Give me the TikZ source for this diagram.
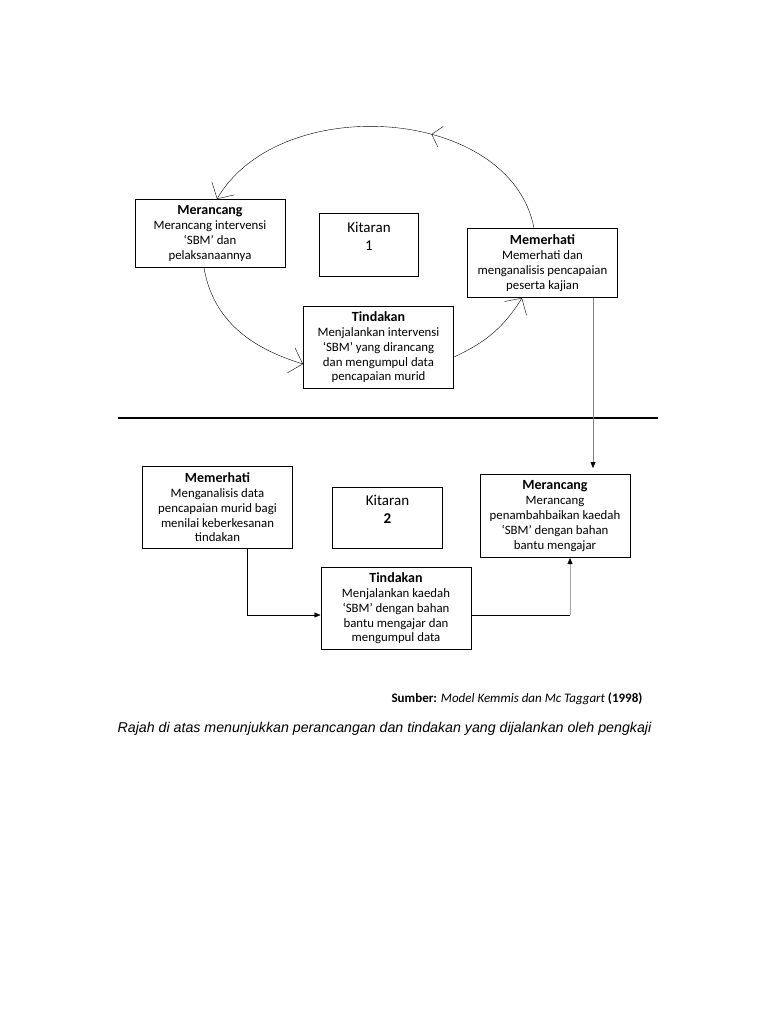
\documentclass[tikz,border=0pt]{standalone}
\usepackage{fontspec}
\setmainfont{Carlito}
\newfontfamily\arialfont{Liberation Sans}
\usetikzlibrary{calc,positioning,arrows.meta,decorations.markings}

\newcommand{\boxhead}[1]{{\fontsize{14}{14.6}\selectfont\bfseries #1}}

\begin{document}
\begin{tikzpicture}[x=1pt,y=-1pt,>={Triangle[length=6pt,width=5pt,color=black]},
	box/.style={draw,line width=1pt,align=center,minimum width=150pt,minimum height=82pt,inner sep=2pt,font=\fontsize{12.8}{14.8}\selectfont},
	kitbox/.style={draw,line width=1pt,align=center,inner sep=2pt,font=\fontsize{15}{18}\selectfont},
	cyc/.style={thin,-{Straight Barb[length=12pt,width=26pt]}}]
	\fill[white] (0,0) rectangle (768,1024);
	% kitaran 1
	\node[box,minimum height=68pt] (mer1) at (210,233.5) {\boxhead{Merancang}\\Merancang intervensi\\‘SBM’ dan\\pelaksanaannya};
	\node[kitbox,minimum width=99pt,minimum height=63pt] (kit1) at (369,245) {Kitaran\\1\\\mbox{}};
	\node[box,minimum height=69pt] (mem1) at (542.5,263) {\boxhead{Memerhati}\\Memerhati dan\\menganalisis pencapaian\\peserta kajian};
	\node[box] (tind1) at (378.5,347.5) {\boxhead{Tindakan}\\Menjalankan intervensi\\‘SBM’ yang dirancang\\dan mengumpul data\\pencapaian murid};
	%
	\draw[cyc,postaction={decorate,decoration={markings,mark=at position 0.38 with {\arrow{Straight Barb[length=9pt,width=21pt]}}}}] ([xshift=-8.5pt]mem1.north) to[out=101,in=60] ([xshift=7pt]mer1.north);
	\draw[cyc] ([xshift=-6pt]mer1.south) to[out=-80,in=163] ([yshift=-16.5pt]tind1.west);
	\draw[cyc] ([yshift=-9.5pt]tind1.east) to[out=25,in=-122] ([xshift=-20.5pt]mem1.south);
	%
	\draw[line width=1.2pt] (118,418) -- (658,418);
	% kitaran 2
	\node[box] (mem2) at (217.5,507.5) {\boxhead{Memerhati}\\Menganalisis data\\pencapaian murid bagi\\menilai keberkesanan\\tindakan};
	\node[kitbox,minimum width=110pt,minimum height=61pt] (kit2) at (387.5,518) {Kitaran\\\textbf{2}\\\mbox{}};
	\node[box,minimum height=83pt] (mer2) at (555,516) {\boxhead{Merancang}\\Merancang\\penambahbaikan kaedah\\‘SBM’ dengan bahan\\bantu mengajar};
	\node[box] (tind2) at (396,608.5) {\boxhead{Tindakan}\\Menjalankan kaedah\\‘SBM’ dengan bahan\\bantu mengajar dan\\mengumpul data};
	%
	\coordinate (drop) at (593,468);
	\draw[gray,->] (mem1.south -| drop) -- (drop);
	\coordinate (elbow) at (247,615);
	\draw[->] (mem2.south -| elbow) -- (elbow) -- (elbow -| tind2.west);
	\coordinate (turn) at (570,615);
	\draw (tind2.east |- turn) -- (turn);
	\draw[gray!70,->] (turn) -- (turn |- mer2.south);
	%
	\node[font=\fontsize{13}{15}\selectfont] (source) at (517,699) {\textbf{Sumber:} \textit{Model Kemmis dan Mc Taggart} \textbf{(1998)}};
	\node[font=\arialfont\itshape\fontsize{14.2}{16}\selectfont] (caption) at (384.5,729) {Rajah di atas menunjukkan perancangan dan tindakan yang dijalankan oleh pengkaji};
\end{tikzpicture}
\end{document}
